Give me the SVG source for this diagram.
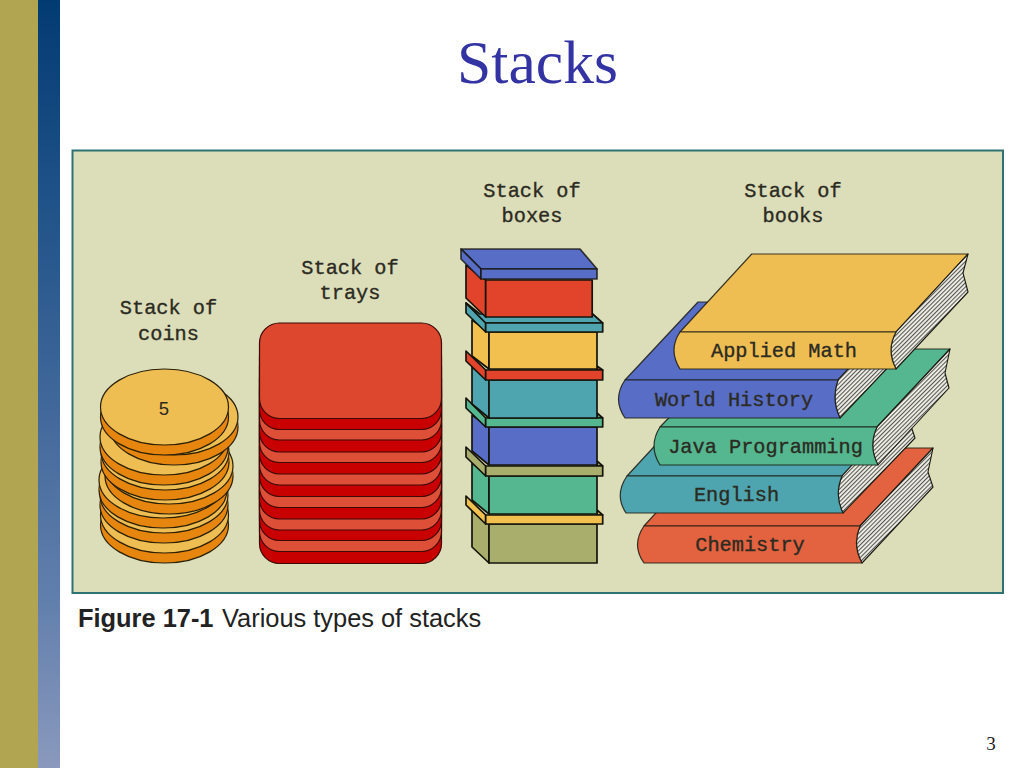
<svg xmlns="http://www.w3.org/2000/svg" width="1024" height="768" viewBox="0 0 1024 768">
<style>
.lbl{font-family:"Liberation Mono",monospace;font-size:20.3px;fill:#2b2b22;stroke:#2b2b22;stroke-width:.35;text-anchor:middle}
.ol{stroke:#1a1a12;stroke-width:1.2;stroke-linejoin:round;stroke-opacity:.85}
.box{stroke:#14140c;stroke-width:1.7;stroke-linejoin:round}
.coinb{fill:#E6860F;stroke:#2a2008;stroke-width:1.2}
.coinf{fill:#EFBE52;stroke:#2a2008;stroke-width:1.2}
.tb{fill:#C90000;stroke:#3a0a04;stroke-width:1.2}
.tf{fill:#DE4F37;stroke:#3a0a04;stroke-width:1.2}
.pg{fill:url(#hatch);stroke:#1a1a12;stroke-width:1.1;stroke-linejoin:round}
</style>
<defs>
<linearGradient id="bar" x1="0" y1="0" x2="0" y2="1">
<stop offset="0" stop-color="#023B72"/><stop offset=".26" stop-color="#1F5288"/><stop offset=".52" stop-color="#40679A"/><stop offset=".78" stop-color="#617FAC"/><stop offset="1" stop-color="#8A99BD"/>
</linearGradient>
<pattern id="hatch" patternUnits="userSpaceOnUse" width="3" height="3" patternTransform="rotate(-45)">
<rect width="3" height="3" fill="#F2F2EA"/><rect width="3" height="1.1" fill="#555552"/>
</pattern>
<g id="coin"><ellipse class="coinb" cx="0" cy="10" rx="64" ry="38"/><rect x="-63.4" y="0" width="126.8" height="10" fill="#E6860F"/><ellipse class="coinf" cx="0" cy="0" rx="64" ry="38"/></g>
</defs>
<rect width="1024" height="768" fill="#fff"/>
<rect x="0" y="0" width="38" height="768" fill="#B2A552"/>
<rect x="38" y="0" width="22" height="768" fill="url(#bar)"/>
<text id="title" x="537.500" y="82.500" text-anchor="middle" font-family="'Liberation Serif',serif" font-size="61.6" fill="#3333A3">Stacks</text>
<rect id="panel" x="72.500" y="150.500" width="930.500" height="442.500" fill="#DCDDB9" stroke="#2E7272" stroke-width="2"/>

<g id="coins">
<use href="#coin" x="164.500" y="515"/>
<use href="#coin" x="164" y="495"/>
<use href="#coin" x="163" y="480"/>
<use href="#coin" x="169" y="466"/>
<use href="#coin" x="165" y="452"/>
<use href="#coin" x="164" y="437"/>
<use href="#coin" x="174" y="417"/>
<use href="#coin" x="164.500" y="407"/>
<text x="164" y="415" text-anchor="middle" font-family="'Liberation Sans',sans-serif" font-size="18.500" fill="#2b2b22">5</text>
<text class="lbl" x="168.500" y="314">Stack of</text>
<text class="lbl" x="168.500" y="339.500">coins</text>
</g>

<g id="trays">
<rect class="tb" x="259.500" y="470" width="182" height="93.500" rx="20"/>
<rect class="tf" x="259.500" y="458" width="182" height="93.500" rx="20"/>
<rect class="tb" x="259.500" y="447" width="182" height="93.500" rx="20"/>
<rect class="tf" x="259.500" y="436.500" width="182" height="93.500" rx="20"/>
<rect class="tb" x="259.500" y="425.500" width="182" height="93.500" rx="20"/>
<rect class="tf" x="259.500" y="414" width="182" height="93.500" rx="20"/>
<rect class="tb" x="259.500" y="403" width="182" height="93.500" rx="20"/>
<rect class="tf" x="259.500" y="391.500" width="182" height="93.500" rx="20"/>
<rect class="tb" x="259.500" y="380.500" width="182" height="93.500" rx="20"/>
<rect class="tf" x="259.500" y="369" width="182" height="93.500" rx="20"/>
<rect class="tb" x="259.500" y="358.500" width="182" height="93.500" rx="20"/>
<rect class="tf" x="259.500" y="346.500" width="182" height="93.500" rx="20"/>
<rect class="tb" x="259.500" y="336" width="182" height="93.500" rx="20"/>
<rect class="tf" style="fill:#DC472D" x="259.500" y="323" width="182" height="95.500" rx="20"/>
<text class="lbl" x="350" y="273.500">Stack of</text>
<text class="lbl" x="350" y="299">trays</text>
</g>

<g id="boxes">
<g fill="#A9AE6C" class="box"><polygon points="472,510 489,524 489,563 472,547"/><rect x="489" y="524" width="108" height="39"/></g>
<g fill="#F2C04E" class="box"><polygon points="466,496 485.700,515 485.700,524 466,505"/><polygon points="597,510 602.700,515 597,515"/><rect x="485.700" y="515" width="117" height="9"/></g>
<g fill="#55B78F" class="box"><polygon points="472,463 489,476 489,514 472,500"/><rect x="489" y="476" width="108" height="38"/></g>
<g fill="#A9AE6C" class="box"><polygon points="466,447 485.700,466 485.700,476 466,457"/><polygon points="597,461 602.700,466 597,466"/><rect x="485.700" y="466" width="117" height="10"/></g>
<g fill="#586DC6" class="box"><polygon points="472,415 489,427 489,465 472,451"/><rect x="489" y="427" width="108" height="38"/></g>
<g fill="#55B78F" class="box"><polygon points="466,398 485.700,418 485.700,427 466,408"/><polygon points="597,413 602.700,418 597,418"/><rect x="485.700" y="418" width="117" height="9"/></g>
<g fill="#4FA5AF" class="box"><polygon points="472,367 489,380 489,418 472,404"/><rect x="489" y="380" width="108" height="38"/></g>
<g fill="#E2432B" class="box"><polygon points="466,351 485.700,370 485.700,380 466,361"/><polygon points="597,366 602.700,370 597,370"/><rect x="485.700" y="370" width="117" height="10"/></g>
<g fill="#F2C04E" class="box"><polygon points="472,320 489,332 489,369 472,356"/><rect x="489" y="332" width="108" height="37"/></g>
<g fill="#4FA5AF" class="box"><polygon points="466,303 485.700,323 485.700,332 466,313"/><polygon points="466,303 485.700,323 602.700,323 592.700,314 480,314"/><rect x="485.700" y="323" width="117" height="9"/></g>
<g fill="#E2432B" class="box"><polygon points="466,265 485.700,280 485.700,317 466,298"/><rect x="485.700" y="280" width="106.500" height="37"/></g>
<g fill="#586DC6" class="box" stroke-opacity=".8"><polygon points="461,249 580,249 597,269 481,269"/><polygon points="461,249 481,269 481,279 461,259"/><rect x="481" y="269" width="116" height="10"/></g>
<text class="lbl" x="532" y="196.500">Stack of</text>
<text class="lbl" x="532" y="222">boxes</text>
</g>

<g id="books">
<g id="chemistry">
<polygon class="ol" fill="#E3623F" points="715,448 933,448 860,526 644,526"/>
<path class="pg" d="M860,526 L933,448 L928,472 L933,487 L862,563 Q852,545 860,526Z"/>
<path class="ol" fill="#E3623F" d="M644,526 H860 Q852,545 862,563 H644 Q631,545 644,526Z"/>
<text class="lbl" x="750" y="550.500">Chemistry</text>
</g>
<g id="english">
<polygon class="ol" fill="#4FA5AF" points="699,398 914,398 842,476 627,476"/>
<path class="pg" d="M842,476 L914,398 L909,420 L915,438 L843,513 Q834,495 842,476Z"/>
<path class="ol" fill="#4FA5AF" d="M627,476 H842 Q834,495 843,513 H626 Q614,495 627,476Z"/>
<text class="lbl" x="736.500" y="501">English</text>
</g>
<g id="java">
<polygon class="ol" fill="#55B78F" points="735,349 950,349 877,427 660,427"/>
<path class="pg" d="M877,427 L950,349 L945,373 L949,388 L878,465 Q868,446 877,427Z"/>
<path class="ol" fill="#55B78F" d="M660,427 H877 Q868,446 878,465 H660 Q648,446 660,427Z"/>
<text class="lbl" x="765.500" y="453">Java Programming</text>
</g>
<g id="history">
<polygon class="ol" fill="#586DC6" points="698,302 910,302 838,380 625,380"/>
<path class="pg" d="M838,380 L910,302 L905,325 L911,343 L840,418 Q831,399 838,380Z"/>
<path class="ol" fill="#586DC6" d="M625,380 H838 Q831,399 840,418 H625 Q612,399 625,380Z"/>
<text class="lbl" x="734" y="406">World History</text>
</g>
<g id="math">
<polygon class="ol" fill="#EFBE52" points="751.700,254 968,254 896,332 680,332"/>
<path class="pg" d="M896,332 L968,254 L963,273 L968,292 L896,369 Q886,350 896,332Z"/>
<path class="ol" fill="#EFBE52" d="M680,332 H896 Q886,350 896,369 H680 Q668,350 680,332Z"/>
<text class="lbl" x="784" y="357">Applied Math</text>
</g>
<text class="lbl" x="793" y="196.500">Stack of</text>
<text class="lbl" x="793" y="222">books</text>
</g>

<text id="caption" y="627" font-family="'Liberation Sans',sans-serif" font-size="25.400" fill="#222"><tspan x="78" font-weight="bold">Figure 17-1</tspan><tspan x="222">Various types of stacks</tspan></text>
<text id="page" x="991" y="750" text-anchor="middle" font-family="'Liberation Serif',serif" font-size="19" fill="#1a1a1a">3</text>
</svg>
